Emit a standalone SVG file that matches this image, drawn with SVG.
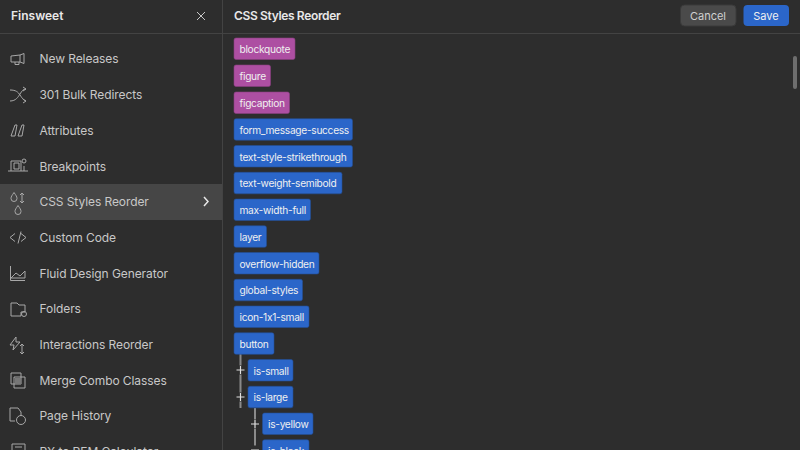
<svg xmlns="http://www.w3.org/2000/svg" width="800" height="450" viewBox="0 0 800 450">
<style>
text{font-family:Inter,"Liberation Sans",sans-serif}
.m{font-size:12px;fill:#c8c8c8;letter-spacing:-.08px}
.h{font-size:12px;font-weight:600;fill:#e8e8e8}
.h2{letter-spacing:-.35px}
.t{font-size:10.2px;fill:#f0f0f0;letter-spacing:-.3px}
.b{fill:#2b66c9;stroke:#244f96;stroke-width:.6}
.p{fill:#ad4fa2;stroke:#8a4082;stroke-width:.6}
.i{fill:none;stroke:#a8a8a8;stroke-width:1}
.c{fill:none;stroke:#8a8a8a;stroke-width:2}
.x{fill:none;stroke:#e0e0e0;stroke-width:1.2}
</style>
<rect width="800" height="450" fill="#2d2d2d"/>
<rect y="184" width="222" height="36" fill="#464646"/>
<path d="M0 33.5H800M222.5 0V450" stroke="#434343" fill="none"/>
<g id="header-left"><text class="h" x="11" y="20">Finsweet</text><path class="i" d="M197 12l8 8M205 12l-8 8" style="stroke:#c8c8c8"/></g>
<g id="header-right"><text class="h h2" x="234" y="20">CSS Styles Reorder</text></g>
<g id="btn-cancel"><rect x="680.500" y="5" width="55.500" height="21" rx="4" fill="#4a4a4a" stroke="#3a3a3a"/><text x="708" y="20" text-anchor="middle" font-size="11" fill="#d0d0d0">Cancel</text></g>
<g id="btn-save"><rect x="743.500" y="5" width="45.500" height="21" rx="4" fill="#2b66c9"/><text x="766" y="20" text-anchor="middle" font-size="11" fill="#f0f0f0">Save</text></g>
<rect id="scrollbar" x="793" y="56" width="4" height="33" rx="2" fill="#6e6e6e"/>

<g id="menu-new-releases"><text class="m" x="39.500" y="63">New Releases</text><path class="i" d="M11 56l9-1 4-1.500v10l-4-1.500H11zM20 55v7M15 62v2.500h4V62"/></g>
<g id="menu-301"><text class="m" x="39.500" y="99">301 Bulk Redirects</text><path class="i" d="M10 90c6 0 8 2 10 5s4 6 6 6M10 101c6 0 8-4 10-7s3-5 6-5M23 87l3 2-3 2M23 99l3 2-3 2"/></g>
<g id="menu-attributes"><text class="m" x="39.500" y="135">Attributes</text><path class="i" d="M11 136l4-11h2l-2 11zM18 136l4-11h2l-2 11z"/></g>
<g id="menu-breakpoints"><text class="m" x="39.500" y="170.500">Breakpoints</text><path class="i" d="M8 171h20M11 171v-10h10v10M14 163h5v6h-5zM24 171v-5"/><circle class="i" cx="24" cy="161" r="2"/></g>
<g id="menu-css"><text class="m" x="39.500" y="206">CSS Styles Reorder</text><path class="i" d="M14 193.500c-2 3-3 4-3 6a3 3 0 0 0 6 0c0-2-1-3-3-6zM18 206.500c-2 3-3 4-3 6a3 3 0 0 0 6 0c0-2-1-3-3-6zM22 194v10M20 196l2-2 2 2M20 202l2 2 2-2" transform="translate(0 -1)"/><path d="M204 197l4 4.500-4 4.500" fill="none" stroke="#e8e8e8" stroke-width="1.500"/></g>
<g id="menu-custom"><text class="m" x="39.500" y="241.500">Custom Code</text><path class="i" d="M15 233l-5 4 5 4M21 231l-3 12M21 233l5 4-5 4" transform="translate(0 0.500)"/></g>
<g id="menu-fluid"><text class="m" x="39.500" y="277.500">Fluid Design Generator</text><path class="i" d="M10.500 266v14.500H25M11 278l5-5 4 3 5-5v7H11z"/></g>
<g id="menu-folders"><text class="m" x="39.500" y="313">Folders</text><path class="i" d="M11 303h6l2 2h6v7h-4v4H11z"/><circle class="i" cx="24" cy="314" r="2.500"/></g>
<g id="menu-interactions"><text class="m" x="39.500" y="349">Interactions Reorder</text><path class="i" d="M16 337l-6 8h4l-1 5 7-8h-4zM22 344v10M20 346l2-2 2 2M20 352l2 2 2-2"/></g>
<g id="menu-merge"><text class="m" x="39.500" y="384.500">Merge Combo Classes</text><path class="i" d="M11 373h10v4h4v11H14v-4h-3zM14 377h7v7h-7z"/><rect x="15" y="378" width="6" height="6" fill="#777"/></g>
<g id="menu-history"><text class="m" x="39.500" y="420">Page History</text><path class="i" d="M10 408h8l3 4v4M10 408v13h5"/><circle class="i" cx="21" cy="420" r="4.500"/></g>
<g id="menu-px"><text class="m" x="39.500" y="456">PX to REM Calculator</text><path class="i" d="M12 444h13v10H12zM15 447h7"/></g>

<g id="connectors">
<path class="c" d="M240.500 354V365.500M240.500 374.500V392.500M240.500 401.500V408M255 408V419.500M255 428.500V445.500"/>
<path class="x" d="M236.500 370h8M240.500 366v8M236.500 397h8M240.500 393v8M251 424h8M255 420v8M251 450h8"/>
</g>

<g id="tag-blockquote"><rect class="p" x="234" y="38" width="61" height="21.500" rx="2"/><text class="t" x="239.500" y="53">blockquote</text></g>
<g id="tag-figure"><rect class="p" x="234" y="65" width="36.500" height="21.500" rx="2"/><text class="t" x="239.500" y="80">figure</text></g>
<g id="tag-figcaption"><rect class="p" x="234" y="92" width="55.500" height="21.500" rx="2"/><text class="t" x="239.500" y="107">figcaption</text></g>
<g id="tag-form"><rect class="b" x="234" y="118.700" width="118.500" height="21.500" rx="2"/><text class="t" x="239.500" y="133.500">form_message-success</text></g>
<g id="tag-strike"><rect class="b" x="234" y="145.500" width="118.500" height="21.500" rx="2"/><text class="t" x="239.500" y="160.500">text-style-strikethrough</text></g>
<g id="tag-semibold"><rect class="b" x="234" y="172.300" width="108" height="21.500" rx="2"/><text class="t" x="239.500" y="187">text-weight-semibold</text></g>
<g id="tag-maxwidth"><rect class="b" x="234" y="199" width="76.500" height="21.500" rx="2"/><text class="t" x="239.500" y="214">max-width-full</text></g>
<g id="tag-layer"><rect class="b" x="234" y="225.800" width="32.500" height="21.500" rx="2"/><text class="t" x="239.500" y="240.500">layer</text></g>
<g id="tag-overflow"><rect class="b" x="234" y="252.500" width="85" height="21.500" rx="2"/><text class="t" x="239.500" y="267.500">overflow-hidden</text></g>
<g id="tag-global"><rect class="b" x="234" y="279.300" width="68.500" height="21.500" rx="2"/><text class="t" x="239.500" y="294">global-styles</text></g>
<g id="tag-icon"><rect class="b" x="234" y="306" width="75" height="21.500" rx="2"/><text class="t" x="239.500" y="321" style="font-feature-settings:'calt' 0">icon-1x1-small</text></g>
<g id="tag-button"><rect class="b" x="234" y="332.800" width="40" height="21.500" rx="2"/><text class="t" x="239.500" y="347.500">button</text></g>
<g id="tag-small"><rect class="b" x="248" y="359.500" width="45" height="21.500" rx="2"/><text class="t" x="253.500" y="374.500">is-small</text></g>
<g id="tag-large"><rect class="b" x="248" y="386.300" width="45" height="21.500" rx="2"/><text class="t" x="253.500" y="401">is-large</text></g>
<g id="tag-yellow"><rect class="b" x="262.500" y="413" width="50.500" height="21.500" rx="2"/><text class="t" x="268" y="428">is-yellow</text></g>
<g id="tag-black"><rect class="b" x="262.500" y="439.800" width="46.500" height="21.500" rx="2"/><text class="t" x="268" y="454.500">is-black</text></g>
</svg>
